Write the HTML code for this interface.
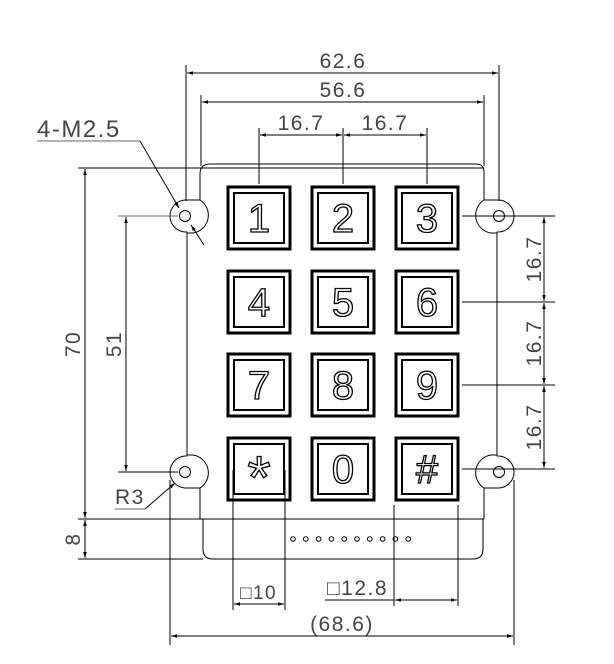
<!DOCTYPE html>
<html><head><meta charset="utf-8"><style>
html,body{margin:0;padding:0;background:#fff;}
svg{display:block;}
.t{font-family:"Liberation Sans",sans-serif;font-size:21px;fill:#444;letter-spacing:1.5px;}
.d{font-family:"Liberation Sans",sans-serif;font-size:40px;fill:#fff;stroke:#000;stroke-width:1.3;}
</style></head><body>
<svg width="614" height="664" viewBox="0 0 614 664" xmlns="http://www.w3.org/2000/svg">
<defs>
<marker id="a" viewBox="0 0 10 10" refX="10" refY="5" markerWidth="10" markerHeight="6" orient="auto-start-reverse" markerUnits="userSpaceOnUse"><path d="M0,2 L10,5 L0,8z" fill="#000"/></marker>
</defs>
<g stroke="#000" stroke-width="1" fill="none">
<line x1="186" y1="65" x2="186" y2="201"/>
<line x1="499" y1="65" x2="499" y2="201"/>
<line x1="201" y1="95" x2="201" y2="166"/>
<line x1="484" y1="95" x2="484" y2="166"/>
<line x1="259" y1="128" x2="259" y2="184"/>
<line x1="343" y1="128" x2="343" y2="184"/>
<line x1="427" y1="128" x2="427" y2="184"/>
<line x1="187" y1="73" x2="498" y2="73" marker-start="url(#a)" marker-end="url(#a)"/>
<line x1="202" y1="102" x2="483" y2="102" marker-start="url(#a)" marker-end="url(#a)"/>
<line x1="260" y1="135" x2="342" y2="135" marker-start="url(#a)" marker-end="url(#a)"/>
<line x1="344" y1="135" x2="426" y2="135" marker-start="url(#a)" marker-end="url(#a)"/>
<!-- panel -->
<path d="M200,200 V174 Q200,164 210,164 H476 Q484,164 484,172 V200"/>
<line x1="200" y1="168" x2="484" y2="168"/>
<!-- left ears -->
<path d="M200,200 H185 A16,16 0 1 0 187,232 V456 A16,16 0 1 0 185,488 H200 V519"/>
<path d="M200,200 A18,18 0 0 1 193,233 H187"/>
<path d="M200,488 A18,18 0 0 0 193,455 H187"/>
<!-- right ears -->
<path d="M484,200 H499 A16,16 0 1 1 497,232 V456 A16,16 0 1 1 499,488 H484 V519"/>
<path d="M484,200 A18,18 0 0 0 491,233 H497"/>
<path d="M484,488 A18,18 0 0 1 491,455 H497"/>
<circle cx="185" cy="216" r="5.5"/>
<circle cx="185" cy="472" r="5.5"/>
<circle cx="499" cy="216" r="5.5"/>
<circle cx="499" cy="472" r="5.5"/>
<line x1="200" y1="519" x2="484" y2="519"/>
<path d="M203,519 V549 Q203,559 213,559 H473 Q483,559 483,549 V519"/>
<!-- left dims -->
<line x1="78" y1="168" x2="200" y2="168"/>
<line x1="85" y1="169" x2="85" y2="518" marker-start="url(#a)" marker-end="url(#a)"/>
<line x1="118" y1="216" x2="178" y2="216" stroke="#666"/>
<line x1="118" y1="472" x2="178" y2="472"/>
<line x1="126" y1="217" x2="126" y2="471" marker-start="url(#a)" marker-end="url(#a)"/>
<line x1="78" y1="519" x2="200" y2="519"/>
<line x1="78" y1="559" x2="203" y2="559"/>
<line x1="85" y1="520" x2="85" y2="558" marker-start="url(#a)" marker-end="url(#a)"/>
<!-- right dims -->
<line x1="462" y1="216" x2="555" y2="216"/>
<line x1="462" y1="302" x2="555" y2="302"/>
<line x1="462" y1="385" x2="555" y2="385"/>
<line x1="462" y1="469" x2="555" y2="469"/>
<line x1="544" y1="217" x2="544" y2="301" marker-start="url(#a)" marker-end="url(#a)"/>
<line x1="544" y1="303" x2="544" y2="384" marker-start="url(#a)" marker-end="url(#a)"/>
<line x1="544" y1="386" x2="544" y2="468" marker-start="url(#a)" marker-end="url(#a)"/>
<!-- leaders -->
<line x1="37" y1="141" x2="140" y2="141" stroke="#666"/>
<line x1="140" y1="141" x2="179" y2="208" marker-end="url(#a)"/>
<line x1="191" y1="225" x2="204" y2="245" marker-start="url(#a)"/>
<line x1="115" y1="509" x2="145" y2="509" stroke="#666"/>
<line x1="145" y1="509" x2="175" y2="483" marker-end="url(#a)"/>
<!-- bottom dims -->
<line x1="233" y1="470" x2="233" y2="610"/>
<line x1="285" y1="470" x2="285" y2="610"/>
<line x1="234" y1="604" x2="284" y2="604" marker-start="url(#a)" marker-end="url(#a)"/>
<line x1="394" y1="505" x2="394" y2="606"/>
<line x1="458" y1="505" x2="458" y2="606"/>
<line x1="325" y1="600" x2="394" y2="600"/>
<line x1="395" y1="600" x2="457" y2="600" marker-start="url(#a)" marker-end="url(#a)"/>
<line x1="170" y1="480" x2="170" y2="645"/>
<line x1="514" y1="480" x2="514" y2="645"/>
<line x1="171" y1="636" x2="513" y2="636" marker-start="url(#a)" marker-end="url(#a)"/>
</g>
<g stroke="#000" stroke-width="1" fill="none">
<circle cx="293" cy="539" r="2.3"/><circle cx="305.8" cy="539" r="2.3"/><circle cx="318.6" cy="539" r="2.3"/><circle cx="331.4" cy="539" r="2.3"/><circle cx="344.2" cy="539" r="2.3"/><circle cx="357" cy="539" r="2.3"/><circle cx="369.8" cy="539" r="2.3"/><circle cx="382.6" cy="539" r="2.3"/><circle cx="395.4" cy="539" r="2.3"/><circle cx="408.2" cy="539" r="2.3"/>
</g>
<g fill="none" stroke="#000">
<rect x="228" y="187" width="62" height="62" stroke-width="3"/><rect x="234" y="193" width="50" height="50" stroke-width="2"/>
<rect x="312" y="187" width="62" height="62" stroke-width="3"/><rect x="318" y="193" width="50" height="50" stroke-width="2"/>
<rect x="396" y="187" width="62" height="62" stroke-width="3"/><rect x="402" y="193" width="50" height="50" stroke-width="2"/>
<rect x="228" y="271" width="62" height="62" stroke-width="3"/><rect x="234" y="277" width="50" height="50" stroke-width="2"/>
<rect x="312" y="271" width="62" height="62" stroke-width="3"/><rect x="318" y="277" width="50" height="50" stroke-width="2"/>
<rect x="396" y="271" width="62" height="62" stroke-width="3"/><rect x="402" y="277" width="50" height="50" stroke-width="2"/>
<rect x="228" y="354" width="62" height="62" stroke-width="3"/><rect x="234" y="360" width="50" height="50" stroke-width="2"/>
<rect x="312" y="354" width="62" height="62" stroke-width="3"/><rect x="318" y="360" width="50" height="50" stroke-width="2"/>
<rect x="396" y="354" width="62" height="62" stroke-width="3"/><rect x="402" y="360" width="50" height="50" stroke-width="2"/>
<rect x="228" y="438" width="62" height="62" stroke-width="3"/><rect x="234" y="444" width="50" height="50" stroke-width="2"/>
<rect x="312" y="438" width="62" height="62" stroke-width="3"/><rect x="318" y="444" width="50" height="50" stroke-width="2"/>
<rect x="396" y="438" width="62" height="62" stroke-width="3"/><rect x="402" y="444" width="50" height="50" stroke-width="2"/>
</g>
<g class="d" text-anchor="middle">
<text x="259" y="232">1</text><text x="343" y="232">2</text><text x="427" y="232">3</text>
<text x="259" y="316">4</text><text x="343" y="316">5</text><text x="427" y="316">6</text>
<text x="259" y="399">7</text><text x="343" y="399">8</text><text x="427" y="399">9</text>
<text x="259" y="498" style="font-size:60px">*</text><text x="343" y="483">0</text><text x="427" y="483">#</text>
</g>
<g class="t">
<text x="343" y="68" text-anchor="middle">62.6</text>
<text x="343" y="97" text-anchor="middle">56.6</text>
<text x="301" y="130" text-anchor="middle">16.7</text>
<text x="385" y="130" text-anchor="middle">16.7</text>
<text x="37" y="137" style="font-size:24px">4-M2.5</text>
<text x="115" y="504">R3</text>
<text x="240" y="599" style="font-size:19px">□10</text>
<text x="327" y="595">□12.8</text>
<text x="342" y="631" text-anchor="middle">(68.6)</text>
<text transform="translate(80,344) rotate(-90)" text-anchor="middle">70</text>
<text transform="translate(121,344) rotate(-90)" text-anchor="middle">51</text>
<text transform="translate(80,539) rotate(-90)" text-anchor="middle">8</text>
<text transform="translate(541,259) rotate(-90)" text-anchor="middle">16.7</text>
<text transform="translate(541,343) rotate(-90)" text-anchor="middle">16.7</text>
<text transform="translate(541,427) rotate(-90)" text-anchor="middle">16.7</text>
</g>
</svg>
</body></html>
